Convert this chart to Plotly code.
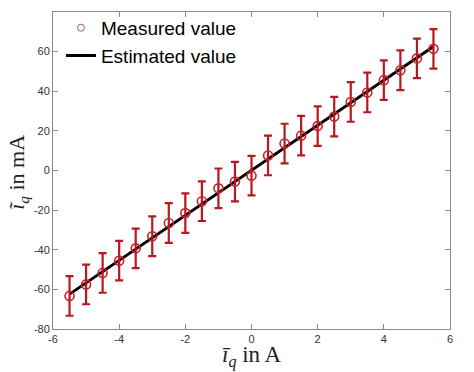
import plotly.graph_objects as go

x_meas = [-5.5, -5, -4.5, -4, -3.5, -3, -2.5, -2, -1.5, -1, -0.5, 0,
          0.5, 1, 1.5, 2, 2.5, 3, 3.5, 4, 4.5, 5, 5.5]
y_meas = [-63.3, -57.5, -51.7, -45.5, -39.3, -33.2, -26.5, -21.5, -15.5, -9.0, -5.6, -2.6,
          7.6, 13.6, 17.6, 22.4, 27.2, 34.6, 39.4, 45.6, 50.6, 56.6, 61.4]
err_meas = [10] * len(x_meas)

x_est = [-5.5, 5.5]
y_est = [-62.4, 62.6]

x_ticks = [-6, -4, -2, 0, 2, 4, 6]
y_ticks = [-80, -60, -40, -20, 0, 20, 40, 60, 80]

fig = go.Figure()
fig.add_trace(go.Scatter(
    x=x_est, y=y_est, mode="lines", name="Estimated value",
    line=dict(color="black", width=3), showlegend=False))
fig.add_trace(go.Scatter(
    x=x_meas, y=y_meas, mode="markers", name="Measured value",
    marker=dict(symbol="circle-open", size=9, color="#cc2027", line=dict(width=1.6)),
    error_y=dict(type="data", array=err_meas, color="#b8171f", thickness=2.2, width=4),
    showlegend=False))
# legend entries
fig.add_trace(go.Scatter(
    x=[None], y=[None], mode="markers", name="Measured value",
    marker=dict(symbol="circle-open", size=7, color="#a06060", line=dict(width=1))))
fig.add_trace(go.Scatter(
    x=[None], y=[None], mode="lines", name="Estimated value",
    line=dict(color="black", width=3)))

axis_common = dict(
    showgrid=False, zeroline=False, showline=True, linecolor="#8a8a8a", linewidth=1,
    mirror="ticks", ticks="inside", ticklen=5, tickcolor="#8a8a8a",
    tickfont=dict(family="Liberation Sans, Arial, sans-serif", size=11, color="#333333"),
)
fig.update_xaxes(range=[-6, 6], tickvals=x_ticks, ticktext=[str(v) for v in x_ticks], **axis_common)
fig.update_yaxes(range=[-80, 80], tickvals=y_ticks, ticktext=[str(v) for v in y_ticks], **axis_common)

fig.add_annotation(
    text="<i>\u012b</i><sub><i>q</i></sub> in A", xref="paper", yref="paper",
    x=0.5, y=-0.088, xanchor="center", yanchor="middle", showarrow=False,
    font=dict(family="Liberation Serif, Times New Roman, serif", size=23, color="#222222"))
fig.add_annotation(
    text="<i>\u0129</i><sub><i>q</i></sub> in mA", xref="paper", yref="paper",
    x=-0.087, y=0.494, xanchor="center", yanchor="middle", showarrow=False, textangle=-90,
    font=dict(family="Liberation Serif, Times New Roman, serif", size=22, color="#222222"))

fig.update_layout(
    width=466, height=364,
    margin=dict(l=45, r=24, t=1, b=43),
    paper_bgcolor="white", plot_bgcolor="white",
    legend=dict(x=0.02, y=1.01, xanchor="left", yanchor="top",
                bgcolor="rgba(0,0,0,0)", tracegroupgap=0,
                font=dict(family="Liberation Sans, Arial, sans-serif", size=19, color="black"),
                itemwidth=30),
)
fig.write_html("out.html")
